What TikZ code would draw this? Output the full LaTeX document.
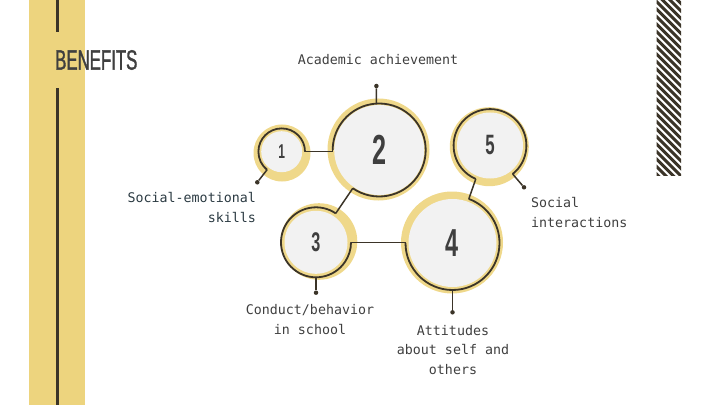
\documentclass[tikz,border=0pt]{standalone}
\usepackage{fontspec}
\usetikzlibrary{calc}
\newfontfamily\labelfont{DejaVu Sans Mono}
\newfontfamily\condfont[FakeStretch=0.6]{Liberation Sans}
\newfontfamily\titlefont[FakeStretch=0.6,FakeBold=1.2]{Liberation Sans}

\definecolor{bandyellow}{HTML}{EDD47E}
\definecolor{ringyellow}{HTML}{EFD88A}
\definecolor{discgray}{HTML}{F2F2F2}
\definecolor{linedark}{HTML}{3B3428}
\definecolor{textdark}{HTML}{3F3F3F}
\definecolor{textslate}{HTML}{2B3A42}

\tikzset{
	disc/.style={circle, fill=discgray, inner sep=0pt, outer sep=0pt, text=textdark},
	ring/.style={draw=linedark, line width=1.8pt},
	link/.style={draw=linedark, line width=1.5pt},
	tip/.style={circle, fill=linedark, inner sep=0pt, minimum size=4.5pt},
	lbl/.style={font=\labelfont\fontsize{13.3}{19.5}\selectfont, text=textdark, inner sep=0pt},
}
\newcommand{\digitsize}[1]{\condfont\bfseries\fontsize{#1}{#1}\selectfont}

\begin{document}
\begin{tikzpicture}[x=1pt,y=1pt]
		\useasboundingbox (0,0) rectangle (720,405);
		% side band and title
		\fill[bandyellow] (29,0) rectangle (85,405);
		\draw[linedark, line width=3pt] (57.7,405) -- (57.7,373.3);
		\draw[linedark, line width=3pt] (57.7,316.7) -- (57.7,0);
		\node[font=\titlefont\fontsize{28}{30}\selectfont, text=textdark, anchor=west, inner sep=0pt] (title) at (55,345) {BENEFITS};
		% hatching top right
		\begin{scope}
			\clip (656.7,230) rectangle (681,405);
			\foreach \y in {200,207.5,...,440}
				\draw[linedark, line width=3pt] (650,\y) -- (690,\y-40);
		\end{scope}
		% circle 1
		\fill[ringyellow] (282,252) circle (28.5);
		\node[disc, minimum size=41pt, font=\digitsize{20}] (n1) at (281.7,253.3) {1};
		\coordinate (n1e) at ($(n1)+(0:23.3)$);
		\coordinate (n1s) at ($(n1)+(231:23.3)$);
		\draw[ring] (n1e) arc[start angle=0, end angle=231, radius=23.3];
		\node[tip] (d1) at (257.3,222.7) {};
		\draw[link] (n1s) -- (d1);
		\node[lbl, text=textslate, align=right, anchor=east] (l1) at (256,197.5) {Social-emotional\\skills};
		% circle 2
		\fill[ringyellow] (378.5,255.5) circle (51);
		\node[disc, minimum size=90pt, font=\digitsize{42}] (n2) at (379.2,255) {2};
		\coordinate (n2w) at ($(n2)+(180:46.5)$);
		\coordinate (n2s) at ($(n2)+(235.4:46.5)$);
		\coordinate (n2n) at ($(n2)+(93.5:46.5)$);
		\draw[ring] (n2s) arc[start angle=235.4, end angle=540, radius=46.5];
		\draw[link] (n1e) -| (n2w);
		\node[tip] (d2) at (376.4,319) {};
		\draw[link] (n2n) -- (d2);
		\node[lbl] (l2) at (378,345) {Academic achievement};
		% circle 3
		\fill[ringyellow] (319,163.5) circle (38.3);
		\node[disc, minimum size=63pt, font=\digitsize{27}] (n3) at (316,162.7) {3};
		\coordinate (n3e) at ($(n3)+(0:35)$);
		\coordinate (n3n) at ($(n3)+(55.7:35)$);
		\coordinate (n3s) at ($(n3)+(270:35)$);
		\draw[ring] (n3n) arc[start angle=55.7, end angle=360, radius=35];
		\draw[link] (n2s) -- (n3n);
		\node[tip] (d3) at (316,112.3) {};
		\draw[link] (n3s) -- (d3);
		\node[lbl, align=center] (l3) at (310,85.5) {Conduct/behavior\\in school};
		% circle 4
		\fill[ringyellow] (452,162.5) circle (51);
		\node[disc, minimum size=88pt, font=\digitsize{39}] (n4) at (452.5,162) {4};
		\coordinate (n4w) at ($(n4)+(180:47)$);
		\coordinate (n4n) at ($(n4)+(69.7:47)$);
		\coordinate (n4s) at ($(n4)+(270:47)$);
		\draw[ring] (n4w) arc[start angle=180, end angle=429.7, radius=47];
		\draw[link] (n3e) -| (n4w);
		\node[tip] (d4) at (452.5,92.7) {};
		\draw[link] (n4s) -- (d4);
		\node[lbl, align=center] (l4) at (453,55) {Attitudes\\about self and\\others};
		% circle 5
		\fill[ringyellow] (489.3,258.3) circle (39.5);
		\node[disc, minimum size=66pt, font=\digitsize{28}] (n5) at (490,259.5) {5};
		\coordinate (n5w) at ($(n5)+(247:36.4)$);
		\coordinate (n5e) at ($(n5)+(308.5:36.4)$);
		\draw[ring] (n5e) arc[start angle=308.5, end angle=607, radius=36.4];
		\draw[link] (n5w) -- (n4n);
		\node[tip] (d5) at (524,217.7) {};
		\draw[link] (n5e) -- (d5);
		\node[lbl, align=left, anchor=west] (l5) at (531,192.5) {Social\\interactions};
\end{tikzpicture}
\end{document}
